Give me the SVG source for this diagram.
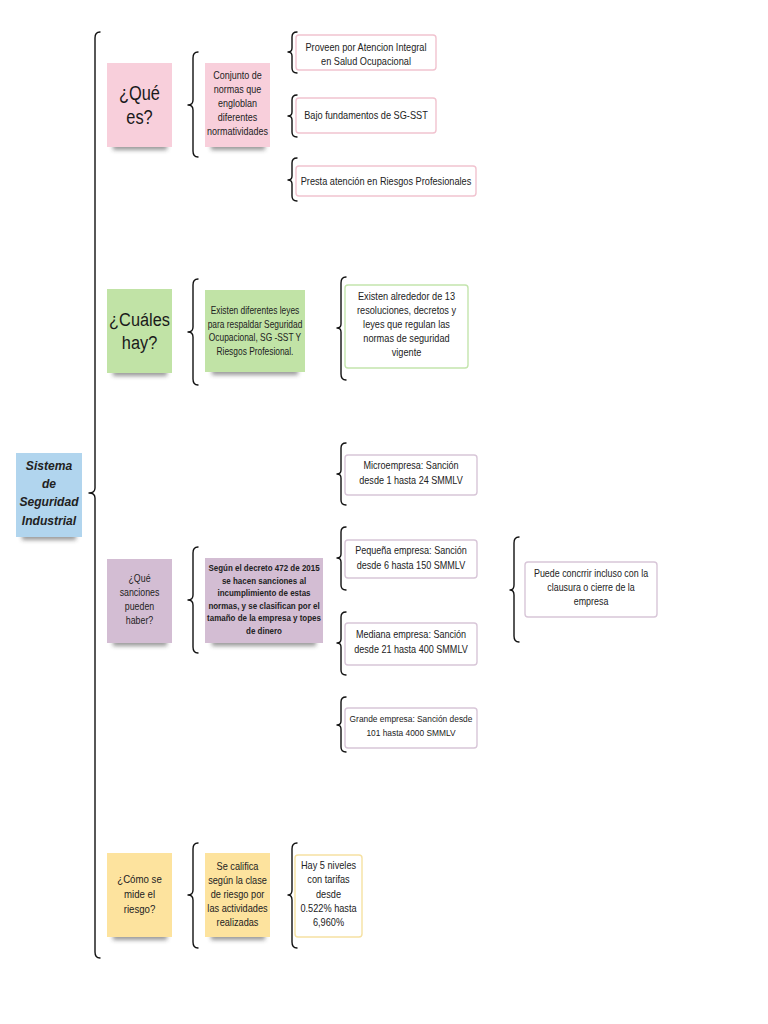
<svg xmlns="http://www.w3.org/2000/svg" width="768" height="1024" viewBox="0 0 768 1024">
<defs>
<filter id="blur" x="-20%" y="-100%" width="140%" height="300%"><feGaussianBlur stdDeviation="2.2"/></filter>
<style>
.br{fill:none;stroke:#111;stroke-width:1.4;stroke-linecap:round;stroke-linejoin:round}
.sh{fill:#333;opacity:.5;filter:url(#blur)}
.t{font-family:"Liberation Sans",Arial,sans-serif;fill:#222;text-anchor:middle;transform-box:fill-box;transform-origin:center;transform:scaleX(.9)}
.n84{transform:scaleX(.84)}
.n92{transform:scaleX(.92)}
.bg{transform:scaleX(.82)}
.bg2{transform:scaleX(.86)}
.root{transform:scaleX(.93)}
.s10{font-size:10px}
.s103{font-size:10.3px}
.s9{font-size:9.5px}
.big{font-size:20px;fill:#1a1a1a}
.pink{fill:#f8cfdb}
.green{fill:#c1e3a6}
.purple{fill:#d3bdd3}
.yellow{fill:#fde39e}
.blue{fill:#b1d5ee}
.wb{fill:#fff;stroke-width:1.4}
.pb{stroke:#f1c3cf}
.gb{stroke:#c4e5ad}
.ub{stroke:#d8c6d8}
.yb{stroke:#f6e1a2}
</style>
</defs>
<rect width="768" height="1024" fill="#fff"/>

<g id="connectors">
<path class="br" d="M100,32 Q95,32 95,38 L95,488 Q95,493 89,493 Q95,493 95,498 L95,952 Q95,958 100,958"/>
<path class="br" d="M198,52 Q193,52 193,58 L193,100 Q193,105 188,105 Q193,105 193,110 L193,151 Q193,157 198,157"/>
<path class="br" d="M198,279 Q193,279 193,285 L193,327 Q193,332 188,332 Q193,332 193,337 L193,379 Q193,385 198,385"/>
<path class="br" d="M198,547 Q193,547 193,553 L193,595 Q193,600 188,600 Q193,600 193,605 L193,647 Q193,653 198,653"/>
<path class="br" d="M198,843 Q193,843 193,849 L193,890 Q193,895 188,895 Q193,895 193,900 L193,942 Q193,948 198,948"/>
<path class="br" d="M297,32 Q292,32 292,37 L292,48 Q292,52 288,52 Q292,52 292,56 L292,68 Q292,73 297,73"/>
<path class="br" d="M297,95 Q292,95 292,100 L292,112 Q292,116 288,116 Q292,116 292,120 L292,132 Q292,137 297,137"/>
<path class="br" d="M297,158 Q292,158 292,163 L292,176 Q292,180 288,180 Q292,180 292,184 L292,196 Q292,201 297,201"/>
<path class="br" d="M297,843 Q292,843 292,849 L292,890 Q292,895 288,895 Q292,895 292,900 L292,942 Q292,948 297,948"/>
<path class="br" d="M346,277 Q341,277 341,283 L341,324 Q341,328 337,328 Q341,328 341,332 L341,374 Q341,380 346,380"/>
<path class="br" d="M346,443 Q341,443 341,448 L341,470 Q341,474 337,474 Q341,474 341,478 L341,500 Q341,505 346,505"/>
<path class="br" d="M346,527 Q341,527 341,532 L341,554 Q341,558 337,558 Q341,558 341,562 L341,585 Q341,590 346,590"/>
<path class="br" d="M346,612 Q341,612 341,617 L341,639 Q341,643 337,643 Q341,643 341,647 L341,670 Q341,675 346,675"/>
<path class="br" d="M346,697 Q341,697 341,702 L341,721 Q341,725 337,725 Q341,725 341,729 L341,747 Q341,752 346,752"/>
<path class="br" d="M519,537 Q514,537 514,543 L514,585 Q514,590 510,590 Q514,590 514,595 L514,636 Q514,642 519,642"/>
</g>

<g id="root">
<rect class="sh" x="22" y="533" width="54" height="7"/>
<rect class="blue" x="16" y="453" width="66" height="84"/>
<text class="t root" font-size="13" font-weight="bold" font-style="italic" fill="#111" x="49"><tspan x="49" y="470">Sistema</tspan><tspan x="49" y="488">de</tspan><tspan x="49" y="506">Seguridad</tspan><tspan x="49" y="525">Industrial</tspan></text>
</g>

<g id="q1">
<rect class="sh" x="113" y="143" width="54" height="7"/>
<rect class="pink" x="107" y="63" width="65" height="84"/>
<text class="t big bg"><tspan x="139.5" y="100">¿Qué</tspan><tspan x="139.5" y="124">es?</tspan></text>
</g>
<g id="a1">
<rect class="sh" x="211" y="143" width="54" height="7"/>
<rect class="pink" x="205" y="63" width="65" height="84"/>
<text class="t s10"><tspan x="237.5" y="79">Conjunto de</tspan><tspan x="237.5" y="93">normas que</tspan><tspan x="237.5" y="107">engloblan</tspan><tspan x="237.5" y="121">diferentes</tspan><tspan x="237.5" y="135">normatividades</tspan></text>
</g>
<g id="a1a">
<rect class="wb pb" x="296" y="35" width="140" height="35" rx="3"/>
<text class="t s10 n92"><tspan x="366" y="51">Proveen por Atencion Integral</tspan><tspan x="366" y="65">en Salud Ocupacional</tspan></text>
</g>
<g id="a1b">
<rect class="wb pb" x="296" y="98" width="140" height="35" rx="3"/>
<text class="t s10 n92" x="366" y="119">Bajo fundamentos de SG-SST</text>
</g>
<g id="a1c">
<rect class="wb pb" x="296" y="166" width="180" height="30" rx="3"/>
<text class="t s10 n92" x="386" y="185">Presta atención en Riesgos Profesionales</text>
</g>

<g id="q2">
<rect class="sh" x="113" y="369" width="54" height="7"/>
<rect class="green" x="107" y="289" width="65" height="84"/>
<text class="t big bg2" style="font-size:19px"><tspan x="139.5" y="326">¿Cuáles</tspan><tspan x="139.5" y="349">hay?</tspan></text>
</g>
<g id="a2">
<rect class="sh" x="212" y="368" width="86" height="7"/>
<rect class="green" x="205" y="290" width="100" height="82"/>
<text class="t s10 n84"><tspan x="255" y="314.5">Existen diferentes leyes</tspan><tspan x="255" y="328">para respaldar Seguridad</tspan><tspan x="255" y="341.5">Ocupacional, SG -SST Y</tspan><tspan x="255" y="355">Riesgos Profesional.</tspan></text>
</g>
<g id="a2a">
<rect class="wb gb" x="345" y="285" width="123" height="83" rx="3"/>
<text class="t s10 n92"><tspan x="406.5" y="300.5">Existen alrededor de 13</tspan><tspan x="406.5" y="314.5">resoluciones, decretos y</tspan><tspan x="406.5" y="328.5">leyes que regulan las</tspan><tspan x="406.5" y="342.5">normas de seguridad</tspan><tspan x="406.5" y="356.5">vigente</tspan></text>
</g>

<g id="q3">
<rect class="sh" x="113" y="639" width="54" height="7"/>
<rect class="purple" x="107" y="559" width="65" height="84"/>
<text class="t s10 n84" style="font-size:10.5px"><tspan x="139.5" y="582">¿Qué</tspan><tspan x="139.5" y="596">sanciones</tspan><tspan x="139.5" y="610">pueden</tspan><tspan x="139.5" y="624">haber?</tspan></text>
</g>
<g id="a3">
<rect class="sh" x="212" y="639" width="104" height="7"/>
<rect class="purple" x="205" y="558" width="118" height="85"/>
<text class="t s9 n84" font-weight="bold" fill="#2a2a2a"><tspan x="264" y="571.5">Según el decreto 472 de 2015</tspan><tspan x="264" y="584">se hacen sanciones al</tspan><tspan x="264" y="596.5">incumplimiento de estas</tspan><tspan x="264" y="609">normas, y se clasifican por el</tspan><tspan x="264" y="621.5">tamaño de la empresa y topes</tspan><tspan x="264" y="634">de dinero</tspan></text>
</g>
<g id="a3a">
<rect class="wb ub" x="345" y="455" width="132" height="40" rx="3"/>
<text class="t s103" style="transform:scaleX(.88)"><tspan x="411" y="469.5">Microempresa: Sanción</tspan><tspan x="411" y="484.5">desde 1 hasta 24 SMMLV</tspan></text>
</g>
<g id="a3b">
<rect class="wb ub" x="345" y="540" width="132" height="38" rx="3"/>
<text class="t s103" style="transform:scaleX(.88)"><tspan x="411" y="554.5">Pequeña empresa: Sanción</tspan><tspan x="411" y="569.5">desde 6 hasta 150 SMMLV</tspan></text>
</g>
<g id="a3c">
<rect class="wb ub" x="345" y="623" width="132" height="42" rx="3"/>
<text class="t s103" style="transform:scaleX(.88)"><tspan x="411" y="638.5">Mediana empresa: Sanción</tspan><tspan x="411" y="653.5">desde 21 hasta 400 SMMLV</tspan></text>
</g>
<g id="a3d">
<rect class="wb ub" x="345" y="708" width="132" height="40" rx="3"/>
<text class="t s9" style="font-size:9px;transform:scaleX(.93)"><tspan x="411" y="722">Grande empresa: Sanción desde</tspan><tspan x="411" y="736">101 hasta 4000 SMMLV</tspan></text>
</g>
<g id="a3e">
<rect class="wb ub" x="525" y="562" width="132" height="55" rx="3"/>
<text class="t s10 n84" style="transform:scaleX(.89)"><tspan x="591" y="577.5">Puede concrrir incluso con la</tspan><tspan x="591" y="591.5">clausura o cierre de la</tspan><tspan x="591" y="605.5">empresa</tspan></text>
</g>

<g id="q4">
<rect class="sh" x="113" y="933" width="54" height="7"/>
<rect class="yellow" x="107" y="853" width="65" height="84"/>
<text class="t s10 n92" style="font-size:10.5px"><tspan x="139.5" y="883">¿Cómo se</tspan><tspan x="139.5" y="898">mide el</tspan><tspan x="139.5" y="913">riesgo?</tspan></text>
</g>
<g id="a4">
<rect class="sh" x="211" y="933" width="54" height="7"/>
<rect class="yellow" x="205" y="853" width="65" height="84"/>
<text class="t s10 n92"><tspan x="237.5" y="870">Se califica</tspan><tspan x="237.5" y="884">según la clase</tspan><tspan x="237.5" y="898">de riesgo por</tspan><tspan x="237.5" y="912">las actividades</tspan><tspan x="237.5" y="926.5">realizadas</tspan></text>
</g>
<g id="a4a">
<rect class="wb yb" x="295" y="855" width="67" height="82" rx="3"/>
<text class="t s10 n92"><tspan x="328.5" y="869.5">Hay 5 niveles</tspan><tspan x="328.5" y="883.5">con tarifas</tspan><tspan x="328.5" y="898">desde</tspan><tspan x="328.5" y="912">0.522% hasta</tspan><tspan x="328.5" y="926.5">6,960%</tspan></text>
</g>
</svg>
